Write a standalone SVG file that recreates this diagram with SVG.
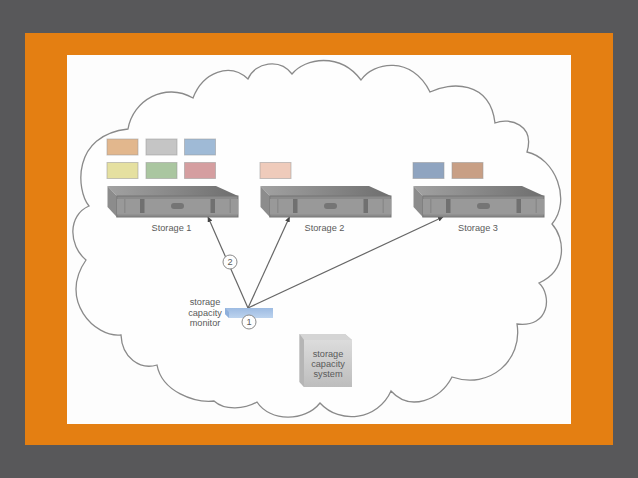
<svg xmlns="http://www.w3.org/2000/svg" width="638" height="478" viewBox="0 0 638 478">
<style>
text{font-family:"Liberation Sans",Arial,sans-serif;font-size:9.200px;fill:#5a5a5a;text-anchor:middle}
.sw{stroke-width:1;stroke-opacity:.55;stroke:#999}
.cn{stroke:#666;stroke-width:1.200;fill:none}
</style>
<defs>
<marker id="ah" markerWidth="6" markerHeight="6" refX="5" refY="2.500" orient="auto" markerUnits="userSpaceOnUse"><path d="M0 0L5.500 2.500L0 5z" fill="#444"/></marker>
<linearGradient id="top" x1="0" x2="1" y1="0" y2="0"><stop offset="0" stop-color="#a2a2a2"/><stop offset="1" stop-color="#6e6e6e"/></linearGradient>
<linearGradient id="mon" x1="0" x2="0" y1="0" y2="1"><stop offset="0" stop-color="#9dbbe2"/><stop offset="1" stop-color="#bcd3ee"/></linearGradient>
<linearGradient id="sys" x1="0" x2="0" y1="0" y2="1"><stop offset="0" stop-color="#dcdcdc"/><stop offset="1" stop-color="#bdbdbd"/></linearGradient>
<g id="unit">
<path d="M107.500 186H216L238 196H116.800z" fill="url(#top)"/>
<path d="M107.500 186L116.800 196V217L107.500 207z" fill="#8c8c8c"/>
<rect x="116.800" y="196" width="121.200" height="21" fill="#8b8b8b" stroke="#757575"/>
<rect x="117" y="199" width="121" height="15.500" fill="#999"/>
<rect x="140" y="199" width="4.500" height="14" fill="#707070"/>
<rect x="210.500" y="199" width="4.500" height="14" fill="#707070"/>
<rect x="124" y="199" width="1.500" height="14" fill="#8a8a8a"/>
<rect x="229.500" y="199" width="1.500" height="14" fill="#8a8a8a"/>
<rect x="171" y="203" width="13" height="6" rx="3" fill="#757575"/>
</g>
</defs>
<rect width="638" height="478" fill="#58585a"/>
<rect x="25" y="33" width="588" height="412" fill="#e47f12"/>
<rect x="67" y="55" width="504" height="369" fill="#fdfdfd"/>
<g id="cloud">
<path d="M89 206C76 190 72 135 128 129C133 100 165 82 193 98C203 72 230 62 248 79C255 62 280 58 292 74C305 58 340 52 361 80C373 62 412 55 430 92C450 82 490 80 495 123C510 117 535 125 527 152C555 158 572 200 552 224C565 238 568 270 539 283C552 295 550 328 517 324C523 360 490 390 452 377C440 400 410 412 391 391C378 420 340 425 320 403C305 422 270 422 257 402C245 409 225 411 214 401C195 403 162 392 157 365C140 370 122 358 121 335C95 338 58 300 86 260C68 245 68 215 89 206Z" fill="#fefefe" stroke="#8a8a8a" stroke-width="1.300"/>
</g>
<g id="connectors">
<line class="cn" x1="248" y1="308" x2="208" y2="217" marker-end="url(#ah)"/>
<line class="cn" x1="248" y1="308" x2="289.500" y2="217" marker-end="url(#ah)"/>
<line class="cn" x1="248" y1="308" x2="443" y2="217" marker-end="url(#ah)"/>
</g>
<g id="blocks-1">
<rect class="sw" x="107" y="139" width="31" height="16" fill="#e2b78d"/>
<rect class="sw" x="146" y="139" width="31" height="16" fill="#c5c5c5"/>
<rect class="sw" x="184.500" y="139" width="31" height="16" fill="#9fbad6"/>
<rect class="sw" x="107" y="162.500" width="31" height="16" fill="#e5e0a0"/>
<rect class="sw" x="146" y="162.500" width="31" height="16" fill="#aac6a0"/>
<rect class="sw" x="184.500" y="162.500" width="31" height="16" fill="#d59ea0"/>
</g>
<g id="block-2"><rect class="sw" x="260" y="162.500" width="31" height="16" fill="#efcbbb"/></g>
<g id="blocks-3">
<rect class="sw" x="413" y="162.500" width="31" height="16" fill="#8fa4c0"/>
<rect class="sw" x="452" y="162.500" width="31" height="16" fill="#c89f85"/>
</g>
<g id="storage-1"><use href="#unit"/><text x="171.500" y="230.500">Storage 1</text></g>
<g id="storage-2"><use href="#unit" x="153"/><text x="324.500" y="230.500">Storage 2</text></g>
<g id="storage-3"><use href="#unit" x="306"/><text x="478" y="230.500">Storage 3</text></g>
<g id="badge-2"><circle cx="230" cy="262" r="7" fill="#fefefe" stroke="#8a8a8a"/><text x="230" y="265.300">2</text></g>
<g id="monitor">
<path d="M225 308H273V318H229L225 314z" fill="url(#mon)"/>
<path d="M225 308L229 312V318L225 314z" fill="#8fb0dc"/>
<text x="205" y="305">storage</text><text x="205" y="315.500">capacity</text><text x="205" y="325.500">monitor</text>
</g>
<g id="badge-1"><circle cx="249" cy="322" r="7" fill="#fefefe" stroke="#8a8a8a"/><text x="249" y="325.300">1</text></g>
<g id="system">
<path d="M299.500 334H345L352 340V387H304L299.500 382z" fill="#c8c8c8"/>
<path d="M299.500 334H345L352 340H304z" fill="#d5d5d5"/>
<path d="M299.500 334L304 340V387L299.500 382z" fill="#b5b5b5"/>
<rect x="304" y="340" width="48" height="47" fill="url(#sys)"/>
<text x="328" y="356.500">storage</text><text x="328" y="366.500">capacity</text><text x="328" y="377">system</text>
</g>
</svg>
